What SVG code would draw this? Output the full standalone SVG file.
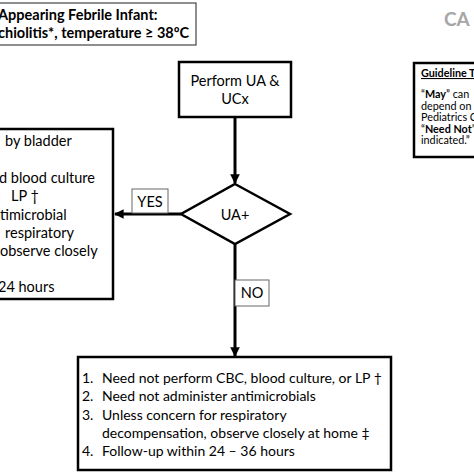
<svg xmlns="http://www.w3.org/2000/svg" width="474" height="474" viewBox="0 0 474 474">
<defs>
<style>
text{font-family:Lato,"Liberation Sans",sans-serif;fill:#000}
.t{font-size:14.5px}
.n{font-size:14px}
.b{font-weight:bold}
.box{fill:#fff;stroke:#000;stroke-width:2.5}
.lbl{fill:#fff;stroke:#666;stroke-width:1}
.con{stroke:#000;stroke-width:3;fill:none}
.sm{font-size:10.8px}
</style>
<marker id="ah" viewBox="0 0 10 10" refX="9" refY="5" markerWidth="3.2" markerHeight="3.2" orient="auto" markerUnits="strokeWidth">
<path d="M0,0 L10,5 L0,10 z" fill="#000"/>
</marker>
</defs>
<rect width="474" height="474" fill="#fff"/>

<g id="title">
<rect x="-3" y="3" width="199" height="42" fill="#fff" stroke="#444" stroke-width="1.2"/>
<text class="t b" x="-2" y="20">Appearing Febrile Infant:</text>
<text class="t b" x="-2" y="38">chiolitis*, temperature ≥ 38ºC</text>
</g>

<g id="ca">
<text x="444" y="26" style="font-size:19px;font-weight:bold;fill:#a6a6a6">CA</text>
</g>

<g id="connectors">
<line class="con" x1="235" y1="118" x2="235" y2="183" marker-end="url(#ah)"/>
<line class="con" x1="181" y1="214" x2="115" y2="214" marker-end="url(#ah)"/>
<line class="con" x1="235" y1="244" x2="235" y2="356" marker-end="url(#ah)"/>
</g>

<g id="perform">
<rect class="box" x="179" y="62" width="112" height="55"/>
<text class="t" x="235" y="86" text-anchor="middle">Perform UA &amp;</text>
<text class="t" x="235" y="104" text-anchor="middle">UCx</text>
</g>

<g id="decision">
<polygon class="box" points="235,184 290,214 235,244 181,214"/>
<text class="t" x="235" y="220" text-anchor="middle">UA+</text>
</g>

<g id="yes-label">
<rect class="lbl" x="132" y="189" width="36" height="24"/>
<text class="t" x="150" y="207" text-anchor="middle">YES</text>
</g>

<g id="no-label">
<rect class="lbl" x="235" y="280" width="34" height="26"/>
<text class="t" x="252" y="298" text-anchor="middle">NO</text>
</g>

<g id="yes-box">
<rect class="box" x="-10" y="129" width="123" height="170"/>
<text class="t" x="5" y="146">by bladder</text>
<text class="t" x="-1" y="183">d blood culture</text>
<text class="t" x="11" y="201">LP †</text>
<text class="t" x="0" y="220">timicrobial</text>
<text class="t" x="5" y="238">respiratory</text>
<text class="t" x="0" y="256">observe closely</text>
<text class="t" x="-2" y="292">24 hours</text>
</g>

<g id="no-box">
<rect class="box" x="78" y="357" width="313" height="113"/>
<text class="n" x="82" y="383">1.</text>
<text class="n" x="102" y="383">Need not perform CBC, blood culture, or LP †</text>
<text class="n" x="82" y="401">2.</text>
<text class="n" x="102" y="401">Need not administer antimicrobials</text>
<text class="n" x="82" y="420">3.</text>
<text class="n" x="102" y="420">Unless concern for respiratory</text>
<text class="n" x="102" y="438">decompensation, observe closely at home ‡</text>
<text class="n" x="82" y="456">4.</text>
<text class="n" x="102" y="456">Follow-up within 24 – 36 hours</text>
</g>

<g id="guideline">
<rect class="box" x="414" y="63" width="70" height="94"/>
<text class="sm b" x="421" y="77" text-decoration="underline">Guideline Terms</text>
<text class="sm" x="421" y="98">“<tspan class="b">May</tspan>” can</text>
<text class="sm" x="421" y="109.5">depend on</text>
<text class="sm" x="421" y="121">Pediatrics Committee</text>
<text class="sm" x="421" y="132.5">“<tspan class="b">Need Not</tspan>”</text>
<text class="sm" x="421" y="144">indicated.”</text>
</g>
</svg>
